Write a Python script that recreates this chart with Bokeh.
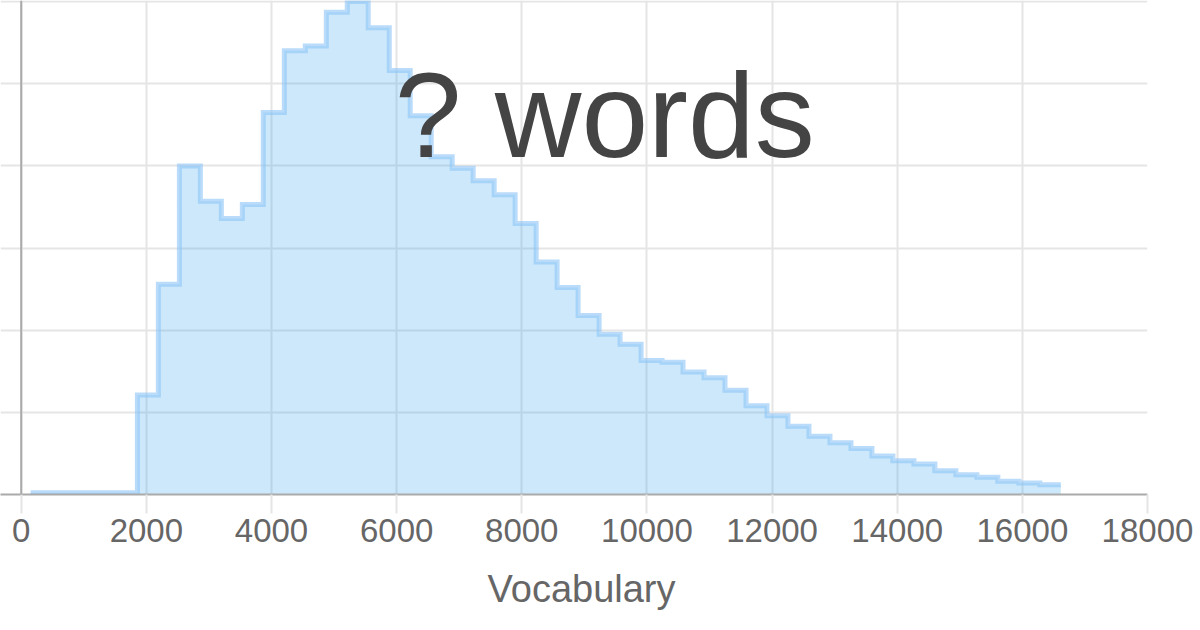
from bokeh.plotting import figure
from bokeh.models import Label, FixedTicker, Range1d, Span, Title
from bokeh.embed import file_html
from bokeh.resources import INLINE

# ---- data ----
# bin edges of the vocabulary histogram (words)
bin_edges = [150, 1857, 2192, 2528, 2863, 3199, 3534, 3869, 4205, 4540, 4876,
             5211, 5546, 5882, 6217, 6553, 6888, 7223, 7559, 7894, 8230,
             8565, 8900, 9236, 9571, 9907, 10242, 10577, 10913, 11248, 11584,
             11919, 12254, 12590, 12925, 13261, 13596, 13931, 14267, 14602,
             14938, 15273, 15608, 15944, 16279, 16615]
# height of each bin (one per interval between edges)
bin_counts = [2, 121, 256, 400, 357, 336, 353, 465, 540, 546, 587, 600, 568,
              516, 461, 411, 397, 382, 365, 330, 283, 252, 218, 195, 183, 163,
              161, 149, 142, 127, 108, 96, 83, 71, 63, 56, 47, 41, 37, 29, 24,
              21, 16, 14, 12]
x_ticks = [0, 2000, 4000, 6000, 8000, 10000, 12000, 14000, 16000, 18000]
y_ticks = [0, 100, 200, 300, 400, 500, 600]
x_title = "Vocabulary"
overlay_text = "? words"

# step series: last value repeated so the line ends flat
step_y = bin_counts + [bin_counts[-1]]

FONT = "Liberation Sans"
GRID = "#e5e5e5"
AXIS = "#aaaaaa"

p = figure(width=1200, height=630, output_backend="svg", toolbar_location=None,
           x_range=Range1d(-331, 18000), y_range=Range1d(0, 601.3),
           min_border_left=0, min_border_right=53, min_border_top=0,
           min_border_bottom=136)
p.outline_line_color = None
p.background_fill_color = "white"
p.border_fill_color = "white"

p.varea_step(x=bin_edges, y1=0, y2=step_y, step_mode="after",
             fill_color=(54, 162, 235), fill_alpha=0.25)
p.step(x=bin_edges, y=step_y, mode="after", line_width=5,
       line_color=(140, 196, 247), line_alpha=0.6, line_join="miter")

# grids
p.xgrid.ticker = FixedTicker(ticks=x_ticks)
p.ygrid.ticker = FixedTicker(ticks=y_ticks)
for g in (p.xgrid, p.ygrid):
    g.grid_line_color = GRID
    g.grid_line_width = 2

# value axis line (its labels lie outside the picture in the reference)
p.yaxis.visible = False
p.add_layout(Span(location=0, dimension="height", line_color=AXIS,
                  line_width=2))

# x axis
xa = p.xaxis[0]
xa.ticker = FixedTicker(ticks=x_ticks)
xa.axis_line_color = AXIS
xa.axis_line_width = 2
xa.major_tick_line_color = GRID
xa.major_tick_line_width = 2
xa.major_tick_out = 19
xa.major_tick_in = 0
xa.minor_tick_line_color = None
xa.major_label_text_font = FONT
xa.major_label_text_font_size = "33px"
xa.major_label_text_color = "#666666"
xa.major_label_standoff = 5

# axis title, centred under the plotting area (which starts at value 0)
p.add_layout(Title(text=x_title, align="left", offset=487, standoff=42,
                   text_font=FONT, text_font_size="38px",
                   text_font_style="normal", text_color="#666666"), "below")

p.add_layout(Label(x=5968, y=462, text=overlay_text, text_font=FONT,
                   text_font_size="120px", text_color="#444444",
                   text_baseline="middle", text_align="left"))

open("out.html", "w").write(file_html(p, INLINE))
